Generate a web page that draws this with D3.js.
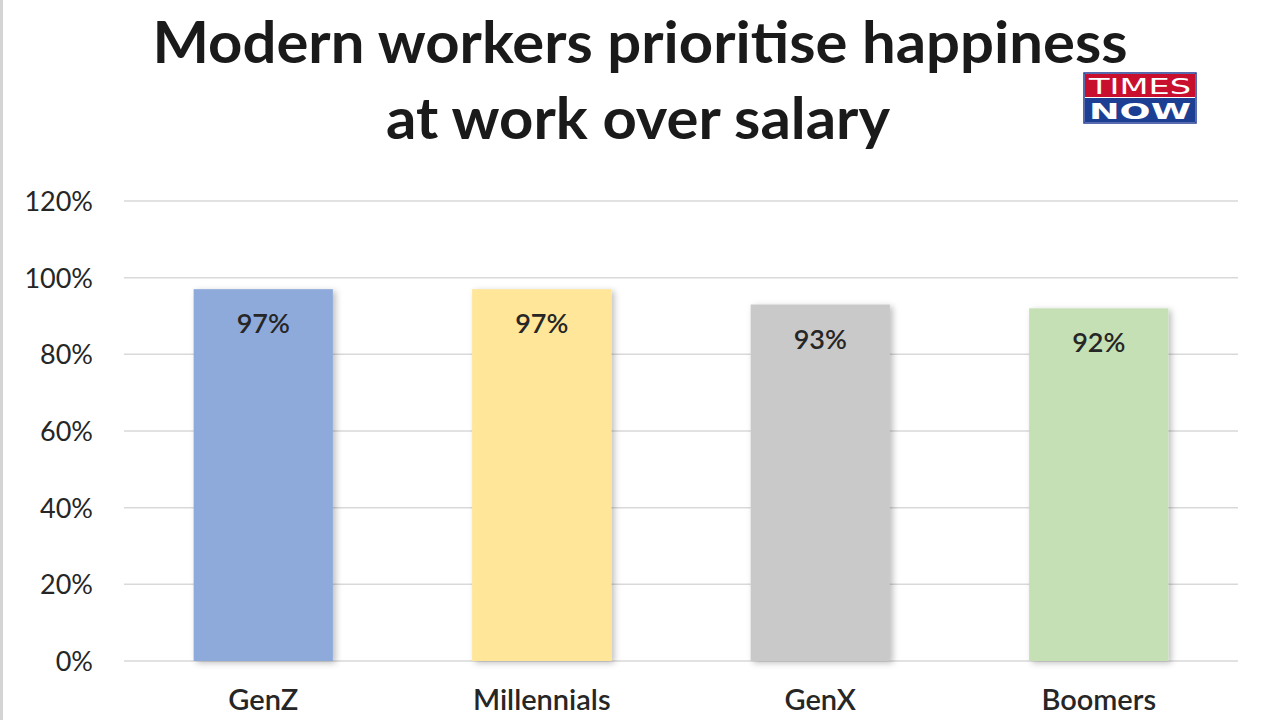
<!DOCTYPE html>
<html><head><meta charset="utf-8">
<script src="https://cdn.jsdelivr.net/npm/d3@7"></script>
<style>body{margin:0;background:#fff;overflow:hidden}</style>
</head><body>
<script>
const categories = ["GenZ", "Millennials", "GenX", "Boomers"];
const values = [97, 97, 93, 92];
const labels = ["97%", "97%", "93%", "92%"];
const barColors = ["#8eaadb", "#ffe699", "#c9c9c9", "#c5e0b4"];
const yTicks = [0, 20, 40, 60, 80, 100, 120];

const W = 1280, H = 720;
const svg = d3.select("body").append("svg").attr("width", W).attr("height", H);
const font = "Lato, 'Open Sans', sans-serif";

const defs = svg.append("defs");
const f = defs.append("filter").attr("id", "sh").attr("x", "-10%").attr("y", "-10%").attr("width", "125%").attr("height", "125%");
f.append("feDropShadow").attr("dx", 3).attr("dy", 2).attr("stdDeviation", 3).attr("flood-color", "#000").attr("flood-opacity", 0.25);

svg.append("rect").attr("width", W).attr("height", H).attr("fill", "#fff");
svg.append("rect").attr("x", 0).attr("y", 0).attr("width", 3).attr("height", H).attr("fill", "#d4d4d4");

const x = d3.scaleBand().domain(categories).range([124, 1238]).paddingInner(0.5).paddingOuter(0.25);
const y = d3.scaleLinear().domain([0, 120]).range([661, 201]);

// gridlines
svg.append("g").selectAll("line").data(yTicks).join("line")
  .attr("x1", 124).attr("x2", 1238)
  .attr("y1", d => y(d)).attr("y2", d => y(d))
  .attr("stroke", "#d9d9d9").attr("stroke-width", 1.5);

// y axis
const yAxis = d3.axisLeft(y).tickValues(yTicks).tickFormat(d => d + "%").tickSize(0).tickPadding(0);
const ya = svg.append("g").attr("transform", "translate(93,0)").call(yAxis);
ya.select(".domain").remove();
ya.selectAll("text").attr("font-family", font).attr("font-size", 27).attr("fill", "#262626").attr("dy", "0.35em");

// bars
svg.append("g").selectAll("rect").data(values).join("rect")
  .attr("x", (d, i) => x(categories[i]))
  .attr("width", x.bandwidth())
  .attr("y", d => y(d))
  .attr("height", d => y(0) - y(d))
  .attr("fill", (d, i) => barColors[i])
  .attr("filter", "url(#sh)");

// value labels
svg.append("g").selectAll("text").data(values).join("text")
  .attr("x", (d, i) => x(categories[i]) + x.bandwidth() / 2)
  .attr("y", d => y(d) + 44)
  .attr("text-anchor", "middle")
  .attr("font-family", font).attr("font-size", 27).attr("font-weight", 600)
  .attr("fill", "#262626")
  .text((d, i) => labels[i]);

// x axis
const xAxis = d3.axisBottom(x).tickSize(0).tickPadding(0);
const xa = svg.append("g").attr("transform", "translate(0,661)").call(xAxis);
xa.select(".domain").remove();
xa.selectAll("text").attr("font-family", font).attr("font-size", 29).attr("font-weight", 600)
  .attr("fill", "#262626").attr("dy", "49");

// title
const title = svg.append("text").attr("text-anchor", "middle")
  .attr("font-family", font).attr("font-weight", 700).attr("font-size", 58).attr("fill", "#1a1a1a");
title.append("tspan").attr("x", 640).attr("y", 63).attr("textLength", 975).attr("lengthAdjust", "spacingAndGlyphs")
  .text("Modern workers prioritise happiness");
title.append("tspan").attr("x", 638).attr("y", 139).attr("textLength", 504).attr("lengthAdjust", "spacingAndGlyphs")
  .text("at work over salary");

// logo
const lg = svg.append("g").attr("transform", "translate(1084,73)");
lg.append("rect").attr("width", 112).attr("height", 50).attr("fill", "#fff").attr("stroke", "#1f3a93").attr("stroke-width", 1.5);
lg.append("rect").attr("x", 1).attr("y", 1).attr("width", 110).attr("height", 23).attr("fill", "#c8102e");
lg.append("rect").attr("x", 1).attr("y", 25).attr("width", 110).attr("height", 24).attr("fill", "#1c3f94");
lg.append("text").attr("x", 56).attr("y", 21).attr("text-anchor", "middle")
  .attr("font-family", "'DejaVu Sans', sans-serif").attr("font-size", 22).attr("fill", "#fff")
  .attr("textLength", 102).attr("lengthAdjust", "spacingAndGlyphs").text("TIMES");
lg.append("text").attr("x", 56).attr("y", 46).attr("text-anchor", "middle")
  .attr("font-family", "'DejaVu Sans', sans-serif").attr("font-weight", 700).attr("font-size", 22).attr("fill", "#fff")
  .attr("textLength", 102).attr("lengthAdjust", "spacingAndGlyphs").text("NOW");
</script>
</body></html>
